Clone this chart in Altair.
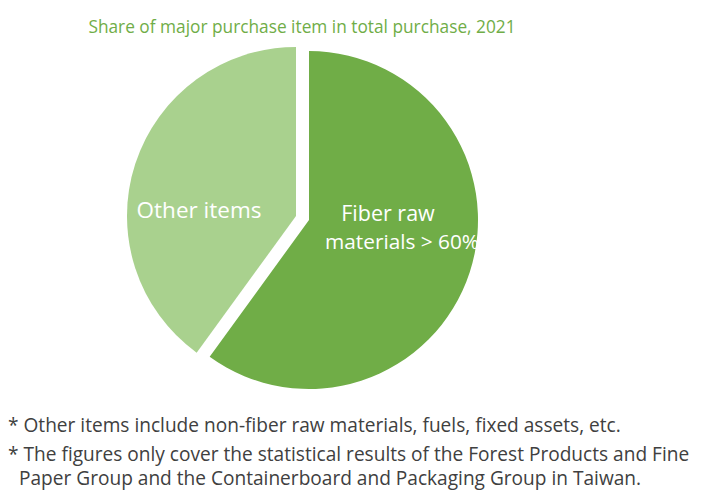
import altair as alt
import pandas as pd

categories = ["Fiber raw materials", "Other items"]
shares = [60, 40]
colors = ["#70ad47", "#a9d18e"]
order = [1, 2]

df = pd.DataFrame({"category": categories, "share": shares, "ord": order})

FONT = "Open Sans"
W, H = 694, 483
cx, cy, R = 294.5, 210, 169

base = alt.Chart(df)

def slice_layer(cat, dx, dy):
    return base.mark_arc(xOffset=dx, yOffset=dy, stroke=None).encode(
        theta=alt.Theta("share:Q", stack=True),
        order=alt.Order("ord:Q"),
        color=alt.Color("category:N", scale=alt.Scale(domain=categories, range=colors), legend=None),
        opacity=alt.condition(alt.datum.category == cat, alt.value(1), alt.value(0)),
        x=alt.value(cx), y=alt.value(cy),
        radius=alt.value(R),
    )

fiber = slice_layer("Fiber raw materials", 6.5, 2)
other = slice_layer("Other items", -6.5, -2)

labels = pd.DataFrame({
    "text": ["Other items", "Fiber raw", "materials > 60%"],
    "px": [191, 380, 394],
    "py": [203, 207, 235],
    "fs": [22.5, 21.5, 20.8],
})
lab = alt.Chart(labels).mark_text(font=FONT, color="white", align="center", baseline="middle").encode(
    text="text:N", x=alt.X("px:Q", scale=None), y=alt.Y("py:Q", scale=None),
    size=alt.Size("fs:Q", scale=None, legend=None),
)

notes = pd.DataFrame({
    "text": [
        "* Other items include non-fiber raw materials, fuels, fixed assets, etc.",
        "* The figures only cover the statistical results of the Forest Products and Fine",
        "Paper Group and the Containerboard and Packaging Group in Taiwan.",
    ],
    "px": [0, 0, 11],
    "py": [418, 447, 471],
})
note = alt.Chart(notes).mark_text(font=FONT, fontSize=19.1, color="#404040", align="left", baseline="middle").encode(
    text="text:N", x=alt.X("px:Q", scale=None), y=alt.Y("py:Q", scale=None)
)

ttl = alt.Chart(pd.DataFrame({"t": ["Share of major purchase item in total purchase, 2021"]})).mark_text(
    font=FONT, fontSize=17.3, color="#70ad47", align="center", baseline="middle"
).encode(text="t:N", x=alt.value(294), y=alt.value(20))

chart = alt.layer(other, fiber, lab, note, ttl).properties(
    width=W, height=H, autosize=alt.AutoSizeParams(type="none"), padding=0
).configure_view(stroke=None)

chart.save("out.html", embed_options={"renderer": "svg", "actions": False})
